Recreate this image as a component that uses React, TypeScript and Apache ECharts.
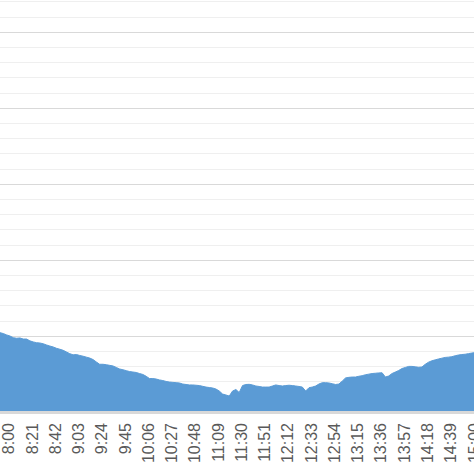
import React, { useEffect, useRef } from "react";
import * as echarts from "echarts";

// minutes after 8:00
const minutes = [
  -8, -5, -2, 1, 4, 7, 10, 13, 16, 19, 22, 25, 28, 31, 34, 37, 40, 43, 46, 49,
  52, 55, 58, 61, 64, 67, 70, 73, 76, 79, 82, 85, 88, 91, 94, 97, 100, 103, 106, 109,
  112, 115, 118, 121, 124, 127, 130, 133, 136, 139, 142, 145, 148, 151, 154, 157, 160, 163, 166, 169,
  172, 175, 178, 181, 184, 187, 190, 193, 196, 199, 202, 205, 208, 211, 214, 217, 220, 223, 226, 229,
  232, 235, 238, 241, 244, 247, 250, 253, 256, 259, 262, 265, 268, 271, 274, 277, 280, 283, 286, 289,
  292, 295, 298, 301, 304, 307, 310, 313, 316, 319, 322, 325, 328, 331, 334, 337, 340, 343, 346, 349,
  352, 355, 358, 361, 364, 367, 370, 373, 376, 379, 382, 385, 388, 391, 394, 397, 400, 403, 406, 409,
  412, 415, 418, 420,
];

const values = [
  5.22, 5.16, 5.07, 5.0, 4.89, 4.85, 4.87, 4.8, 4.8, 4.68, 4.61, 4.56, 4.54, 4.49, 4.41, 4.34, 4.28, 4.19, 4.13, 4.06,
  3.95, 3.84, 3.76, 3.78, 3.72, 3.67, 3.61, 3.55, 3.45, 3.29, 3.14, 3.14, 3.11, 3.07, 3.03, 2.93, 2.83, 2.78, 2.72, 2.66,
  2.63, 2.6, 2.53, 2.47, 2.35, 2.2, 2.2, 2.17, 2.11, 2.07, 2.01, 1.97, 1.95, 1.93, 1.91, 1.84, 1.81, 1.78, 1.78, 1.76,
  1.74, 1.69, 1.64, 1.61, 1.58, 1.51, 1.38, 1.18, 1.12, 1.05, 1.38, 1.48, 1.28, 1.74, 1.81, 1.82, 1.78, 1.71, 1.68, 1.64,
  1.64, 1.64, 1.71, 1.78, 1.74, 1.71, 1.74, 1.76, 1.74, 1.71, 1.68, 1.64, 1.38, 1.6, 1.64, 1.71, 1.84, 1.93, 1.93, 1.91,
  1.86, 1.81, 1.84, 2.03, 2.24, 2.28, 2.3, 2.3, 2.35, 2.39, 2.45, 2.49, 2.53, 2.55, 2.57, 2.58, 2.3, 2.37, 2.53, 2.63,
  2.73, 2.86, 2.93, 3.0, 3.0, 2.97, 2.94, 2.96, 3.14, 3.28, 3.37, 3.43, 3.49, 3.54, 3.59, 3.61, 3.64, 3.7, 3.75, 3.78,
  3.8, 3.84, 3.88, 3.9,
];

const fmt = (v: number) => {
  const t = 480 + v;
  const h = Math.floor(t / 60);
  const m = t % 60;
  return `${h}:${m < 10 ? "0" + m : m}`;
};

export default function App() {
  const ref = useRef<HTMLDivElement>(null);
  useEffect(() => {
    if (!ref.current) return;
    const chart = echarts.init(ref.current, null, { renderer: "svg" });
    chart.setOption({
      animation: false,
      grid: { left: -14.4, right: 0, top: -44, bottom: 62, outerBoundsMode: "none", containLabel: false },
      xAxis: {
        type: "value",
        min: -21,
        max: 420,
        interval: 21,
        z: 5,
        axisLine: { show: true, lineStyle: { color: "#d9d9d9", width: 3 } },
        axisTick: { show: false },
        splitLine: { show: false },
        axisLabel: {
          rotate: 90,
          margin: 11,
          color: "#595959",
          fontSize: 16,
          fontFamily: "Liberation Sans",
          showMinLabel: false,
          hideOverlap: false,
          formatter: (v: number) => fmt(v),
        },
      },
      yAxis: {
        type: "value",
        min: 0,
        max: 30,
        interval: 5,
        axisLine: { show: false },
        axisTick: { show: false },
        axisLabel: { show: false },
        splitLine: { show: true, lineStyle: { color: "#d9d9d9", width: 1 } },
        minorTick: { show: false, splitNumber: 5 },
        minorSplitLine: { show: true, lineStyle: { color: "#efefef", width: 1 } },
      },
      series: [
        {
          type: "line",
          data: minutes.map((m, i) => [m, values[i]]),
          showSymbol: false,
          smooth: false,
          lineStyle: { color: "#5B9BD5", width: 1 },
          areaStyle: { color: "#5B9BD5", opacity: 1 },
          z: 2,
        },
      ],
    });
    return () => chart.dispose();
  }, []);
  return (
    <div
      ref={ref}
      style={{ position: "fixed", left: 0, top: 0, width: 474, height: 474, background: "#fff" }}
    />
  );
}
